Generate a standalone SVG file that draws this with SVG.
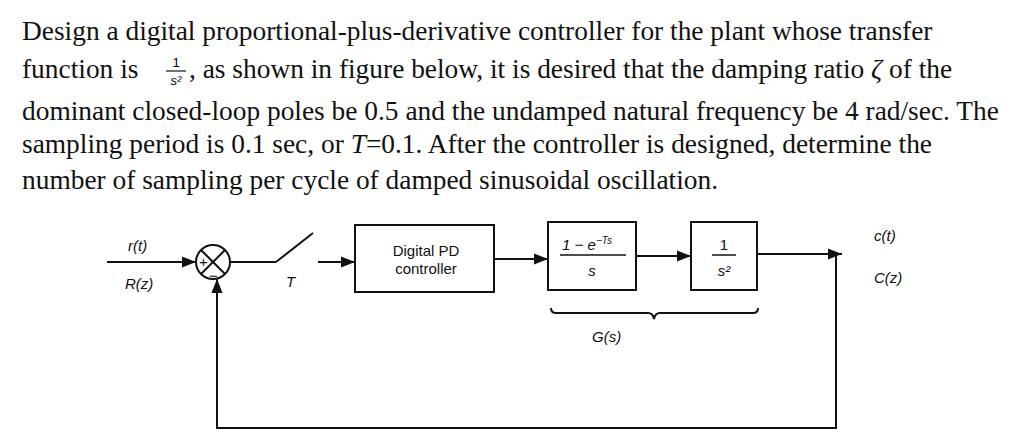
<svg xmlns="http://www.w3.org/2000/svg" width="1024" height="438" viewBox="0 0 1024 438">
<defs>
<style>
.t{font-family:"Liberation Serif",serif;font-size:27.4px;fill:#111}
.d{font-family:"Liberation Sans",sans-serif;font-size:15px;fill:#111;font-style:italic}
.b{font-family:"Liberation Sans",sans-serif;font-size:15px;fill:#111}
.l{stroke:#111;stroke-width:2;fill:none}
</style>
<marker id="a" viewBox="0 0 10 10" refX="10" refY="5" markerWidth="7" markerHeight="7" orient="auto"><path d="M0,1L10,5L0,9z" fill="#111"/></marker>
</defs>
<rect width="1024" height="438" fill="#fff"/>
<text class="t" x="22" y="40">Design a digital proportional-plus-derivative controller for the plant whose transfer</text>
<text class="t" x="22" y="78">function is</text>
<text x="176" y="67" font-family="Liberation Sans,sans-serif" font-size="13" text-anchor="middle">1</text>
<line x1="166" y1="71" x2="186" y2="71" stroke="#111" stroke-width="1.2"/>
<text x="176" y="85" font-family="Liberation Sans,sans-serif" font-size="13" font-style="italic" text-anchor="middle">s²</text>
<text class="t" x="189" y="78">, as shown in figure below, it is desired that the damping ratio <tspan font-style="italic">ζ</tspan>  of the</text>
<text class="t" x="22" y="120">dominant closed-loop poles be 0.5 and the undamped natural frequency be 4 rad/sec. The</text>
<text class="t" x="22" y="153">sampling period is 0.1 sec, or <tspan font-style="italic">T</tspan>=0.1. After the controller is designed, determine the</text>
<text class="t" x="22" y="189">number of sampling per cycle of damped sinusoidal oscillation.</text>
<g id="sum"><circle cx="213" cy="262" r="17" class="l"/><line x1="201" y1="250" x2="225" y2="274" class="l"/><line x1="225" y1="250" x2="201" y2="274" class="l"/><text class="b" x="199" y="267" font-size="13">+</text><text class="b" x="209" y="281" font-size="13">−</text></g>
<g id="switch"><line x1="230" y1="262" x2="276" y2="262" class="l"/><line x1="276" y1="262" x2="313" y2="233" class="l"/><text class="d" x="286" y="287">T</text></g>
<g id="pd"><rect x="355" y="225" width="139" height="67" class="l"/><text class="b" x="426" y="256" text-anchor="middle">Digital PD</text><text class="b" x="426" y="274" text-anchor="middle">controller</text></g>
<g id="zoh"><rect x="548" y="222" width="88" height="68" class="l"/><text class="d" x="587" y="250" text-anchor="middle">1 − e<tspan font-size="10" dy="-6">−Ts</tspan></text><line x1="560" y1="255" x2="626" y2="255" stroke="#111" stroke-width="1.5"/><text class="d" x="592" y="276" text-anchor="middle">s</text></g>
<g id="plant"><rect x="691" y="222" width="66" height="68" class="l"/><text class="b" x="724" y="250" text-anchor="middle">1</text><line x1="712" y1="255" x2="736" y2="255" stroke="#111" stroke-width="1.5"/><text class="d" x="724" y="276" text-anchor="middle">s²</text></g>
<g id="labels"><text class="d" x="128" y="251">r(t)</text><text class="d" x="125" y="289">R(z)</text><text class="d" x="874" y="241">c(t)</text><text class="d" x="874" y="283">C(z)</text><text class="d" x="592" y="342">G(s)</text>
<path d="M551,308 Q551,313 556,313 L648,313 Q653,313 654,319 Q655,313 660,313 L753,313 Q758,313 758,308" class="l" stroke-width="1.5"/></g>
<g id="connectors">
<line x1="107" y1="262" x2="196" y2="262" class="l" marker-end="url(#a)"/>
<line x1="318" y1="262" x2="355" y2="262" class="l" marker-end="url(#a)"/>
<line x1="494" y1="259" x2="548" y2="259" class="l" marker-end="url(#a)"/>
<line x1="636" y1="256" x2="691" y2="256" class="l" marker-end="url(#a)"/>
<line x1="757" y1="254" x2="842" y2="254" class="l" marker-end="url(#a)"/>
<polyline points="836,254 836,428 217,428 217,279" class="l" marker-end="url(#a)"/>
</g>
</svg>
